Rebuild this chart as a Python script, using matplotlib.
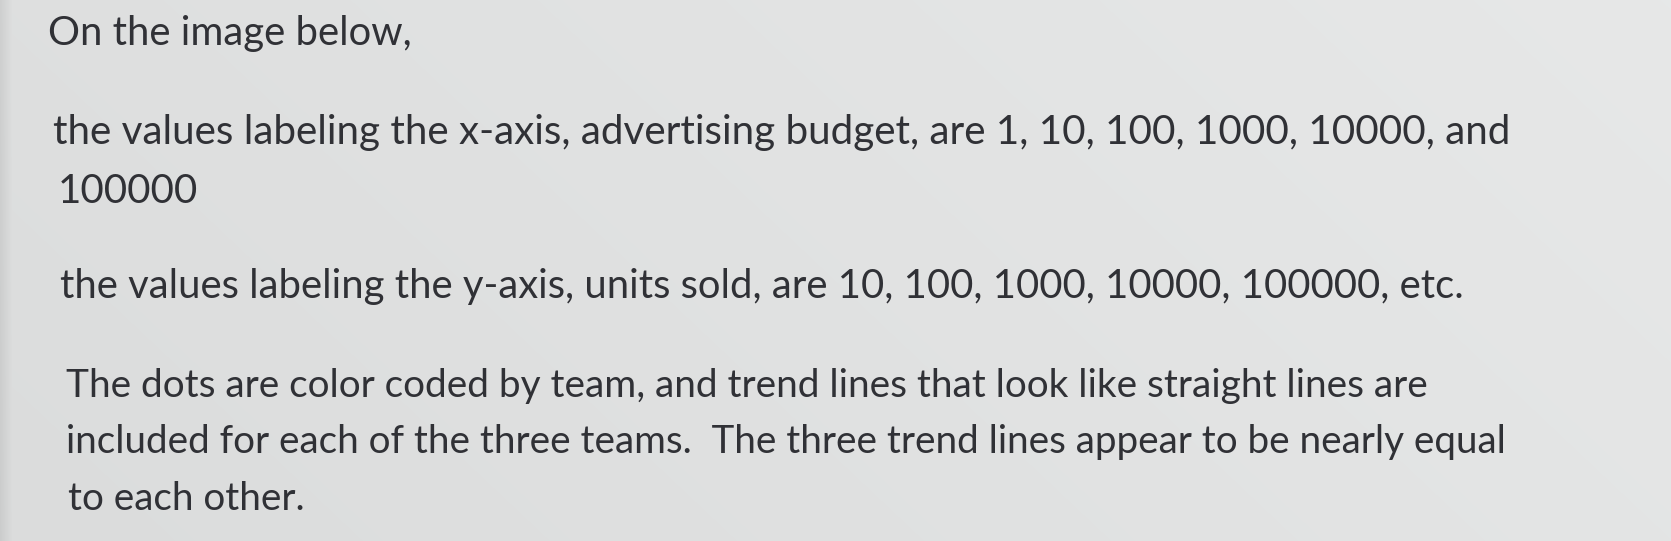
import numpy as np
import matplotlib
matplotlib.use("Agg")
import matplotlib.pyplot as plt

# Text content of the reference (one entry per rendered line)
lines = [
    "On the image below,",
    "the values labeling the x-axis, advertising budget, are 1, 10, 100, 1000, 10000, and",
    "100000",
    "the values labeling the y-axis, units sold, are 10, 100, 1000, 10000, 100000, etc.",
    "The dots are color coded by team, and trend lines that look like straight lines are",
    "included for each of the three teams.  The three trend lines appear to be nearly equal",
    "to each other.",
]
# layout: left x, baseline y, right end (None = use neighbour size)
left_x = [48, 53, 58, 60, 66, 66, 68]
base_y = [45, 144, 203, 298, 397, 453, 510]
right_x = [412, 1512, None, 1462, 1425, 1503, None]

W, H = 1671, 541
fig = plt.figure(figsize=(W / 100, H / 100), dpi=100)
ax = fig.add_axes([0, 0, 1, 1])
ax.set_xlim(0, W)
ax.set_ylim(H, 0)
ax.axis("off")

# background: light neutral grey with soft gradient, darker left edge
xx = np.linspace(0, 1, W)[None, :]
yy = np.linspace(0, 1, H)[:, None]
g = 0.875 + 0.035 * xx - 0.012 * yy
edge = np.clip((np.arange(W) / 12.0), 0, 1)[None, :]
g = g * (0.93 + 0.07 * edge)
rgb = np.dstack([g * 0.995, g * 1.0, g * 1.0])
rgb = np.clip(rgb, 0, 1)
ax.imshow(rgb, extent=[0, W, H, 0], aspect="auto", zorder=0)

renderer = fig.canvas.get_renderer()
color = "#303136"
base_fs = 24.0
sizes = []
texts = []
for i, s in enumerate(lines):
    t = ax.text(left_x[i], base_y[i], s, fontsize=base_fs, family=["Lato", "DejaVu Sans"],
                color=color, va="baseline", ha="left", zorder=2)
    texts.append(t)
    if right_x[i] is not None:
        bb = t.get_window_extent(renderer=renderer)
        target = right_x[i] - left_x[i]
        sizes.append(base_fs * target / bb.width)
    else:
        sizes.append(None)

# fill missing sizes from neighbours
for i in range(len(sizes)):
    if sizes[i] is None:
        prev = sizes[i - 1] if i > 0 else None
        nxt = sizes[i + 1] if i + 1 < len(sizes) else None
        cands = [c for c in (prev, nxt) if c is not None]
        sizes[i] = sum(cands) / len(cands)
for t, fs in zip(texts, sizes):
    t.set_fontsize(fs)

fig.savefig("out.png", dpi=100)
